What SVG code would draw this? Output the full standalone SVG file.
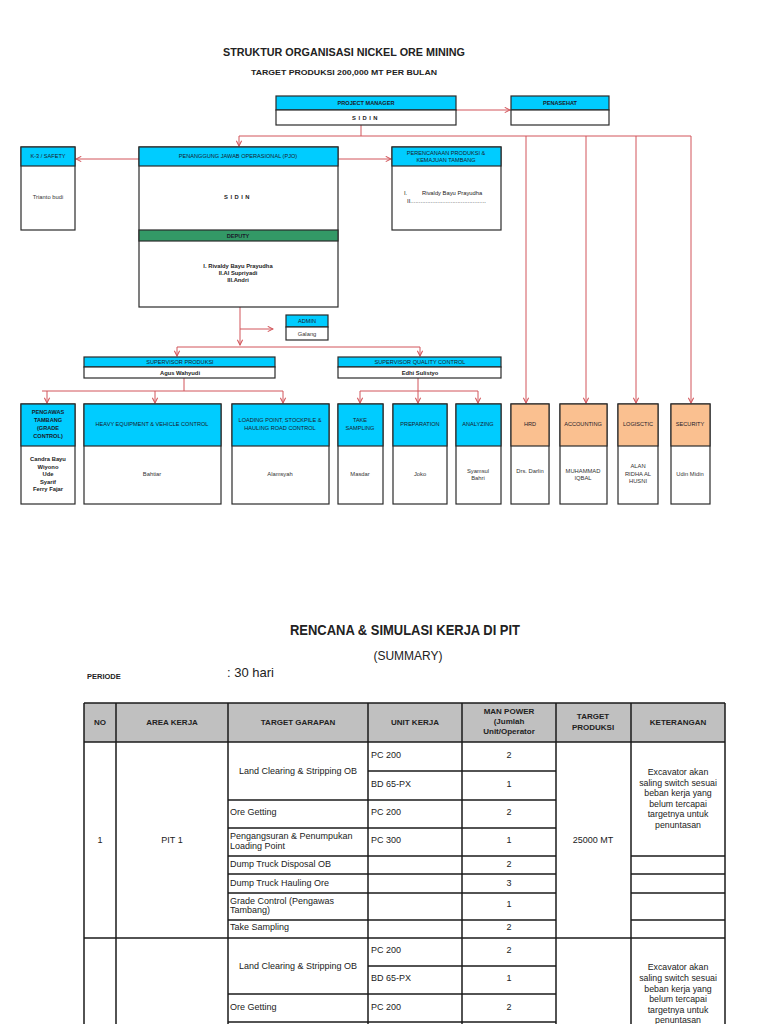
<svg xmlns="http://www.w3.org/2000/svg" width="768" height="1024" viewBox="0 0 768 1024">
<defs>
<marker id="arr" viewBox="0 0 8 8" markerWidth="7" markerHeight="7" refX="7" refY="4" orient="auto" markerUnits="userSpaceOnUse">
<path d="M1,1 L7,4 L1,7" fill="none" stroke="#d2555a" stroke-width="1.2"/>
</marker>
<style>
text{font-family:"Liberation Sans",Arial,sans-serif;fill:#222}
.box{fill:#fff;stroke:#2a2a2a;stroke-width:1.2}
.cy{fill:#00ccff;stroke:#2a2a2a;stroke-width:1.2}
.or{fill:#fac090;stroke:#2a2a2a;stroke-width:1.2}
.gr{fill:#339966;stroke:#2a2a2a;stroke-width:1.2}
.h{font-size:5.6px;text-anchor:middle;fill:#1a1a2a}
.hb{font-size:5.6px;text-anchor:middle;font-weight:bold;fill:#1a1a2a}
.n{font-size:5.8px;text-anchor:middle;fill:#333}
.nb{font-size:5.8px;text-anchor:middle;font-weight:bold;fill:#222}
.con path{fill:none;stroke:#d2555a;stroke-width:1}
.tl line{stroke:#1a1a1a;stroke-width:1.5}
.th{font-size:8px;font-weight:bold;text-anchor:middle}
.t{font-size:9px}
.tc{font-size:9px;text-anchor:middle}
.k{font-size:8.8px;text-anchor:middle}
</style>
</defs>
<rect width="768" height="1024" fill="#fff"/>

<text x="344" y="56" font-size="11" font-weight="bold" text-anchor="middle" textLength="242" lengthAdjust="spacingAndGlyphs">STRUKTUR ORGANISASI NICKEL ORE MINING</text>
<text x="344" y="75" font-size="8" font-weight="bold" text-anchor="middle" textLength="186" lengthAdjust="spacingAndGlyphs">TARGET PRODUKSI 200,000 MT PER BULAN</text>

<g class="con">
<path d="M456,110 H510" marker-end="url(#arr)"/>
<path d="M361,125 V136 M239,136 H691"/>
<path d="M239,136 V146" marker-end="url(#arr)"/>
<path d="M526,136 V403" marker-end="url(#arr)"/>
<path d="M586,136 V403" marker-end="url(#arr)"/>
<path d="M636,136 V403" marker-end="url(#arr)"/>
<path d="M691,136 V403" marker-end="url(#arr)"/>
<path d="M139,159 H76" marker-end="url(#arr)"/>
<path d="M338,159 H391" marker-end="url(#arr)"/>
<path d="M240,307 V345" marker-end="url(#arr)"/>
<path d="M240,329 H273" marker-end="url(#arr)"/>
<path d="M177,347 H420"/>
<path d="M177,347 V356" marker-end="url(#arr)"/>
<path d="M420,347 V356" marker-end="url(#arr)"/>
<path d="M184,378 V391 M42,391 H283"/>
<path d="M47,391 V403" marker-end="url(#arr)"/>
<path d="M155,391 V403" marker-end="url(#arr)"/>
<path d="M283,391 V403" marker-end="url(#arr)"/>
<path d="M418,378 V391 M360,391 H478"/>
<path d="M360,391 V403" marker-end="url(#arr)"/>
<path d="M418,391 V403" marker-end="url(#arr)"/>
<path d="M478,391 V403" marker-end="url(#arr)"/>
</g>

<g id="pm">
<rect class="cy" x="276" y="96" width="180" height="14"/>
<rect class="box" x="276" y="110" width="180" height="15"/>
<text class="hb" x="366" y="105">PROJECT MANAGER</text>
<text class="nb" x="366" y="120" letter-spacing="2.5">SIDIN</text>
</g>
<g id="penasehat">
<rect class="cy" x="511" y="96" width="98" height="14"/>
<rect class="box" x="511" y="110" width="98" height="15"/>
<text class="hb" x="560" y="105">PENASEHAT</text>
</g>
<g id="k3">
<rect class="box" x="21" y="147" width="54" height="83"/>
<rect class="cy" x="21" y="147" width="54" height="19"/>
<text class="h" x="48" y="157.5">K-3 / SAFETY</text>
<text class="n" x="48" y="199">Trianto budi</text>
</g>
<g id="pjo">
<rect class="box" x="139" y="147" width="199" height="160"/>
<rect class="cy" x="139" y="147" width="199" height="19"/>
<text class="h" x="238" y="157.5">PENANGGUNG JAWAB OPERASIONAL (PJO)</text>
<text class="nb" x="238" y="199" letter-spacing="2.5">SIDIN</text>
<rect class="gr" x="139" y="230" width="199" height="11"/>
<text class="hb" x="238" y="237.5">DEPUTY</text>
<text class="nb" x="238" y="268">I. Rivaldy Bayu Prayudha</text>
<text class="nb" x="238" y="275">II.Al Supriyadi</text>
<text class="nb" x="238" y="282">III.Andri</text>
</g>
<g id="perencanaan">
<rect class="box" x="392" y="147" width="109" height="83"/>
<rect class="cy" x="392" y="147" width="109" height="19"/>
<text class="h" x="446" y="154.5">PERENCANAAN PRODUKSI &amp;</text>
<text class="h" x="446" y="161.5">KEMAJUAN TAMBANG</text>
<text x="404" y="195" font-size="5.8" fill="#333">I.</text>
<text x="422" y="195" font-size="5.8" fill="#333">Rivaldy Bayu Prayudha</text>
<text x="407" y="203" font-size="5.8" fill="#333" textLength="79" lengthAdjust="spacingAndGlyphs">II.............................................</text>
</g>
<g id="admin">
<rect class="cy" x="286" y="315" width="42" height="12"/>
<rect class="box" x="286" y="327" width="42" height="13"/>
<text class="h" x="307" y="323">ADMIN</text>
<text class="n" x="307" y="336">Galang</text>
</g>
<g id="sup-produksi">
<rect class="cy" x="84" y="357" width="191" height="10"/>
<rect class="box" x="84" y="367" width="191" height="11"/>
<text class="h" x="180" y="364">SUPERVISOR PRODUKSI</text>
<text class="nb" x="180" y="375">Agus Wahyudi</text>
</g>
<g id="sup-qc">
<rect class="cy" x="338" y="357" width="163" height="10"/>
<rect class="box" x="338" y="367" width="163" height="11"/>
<text class="h" x="420" y="364">SUPERVISOR QUALITY CONTROL</text>
<text class="nb" x="420" y="375">Edhi Sulistyo</text>
</g>

<g id="pengawas">
<rect class="box" x="21" y="404" width="54" height="100"/>
<rect class="cy" x="21" y="404" width="54" height="42"/>
<text class="hb" x="48" y="414">PENGAWAS</text>
<text class="hb" x="48" y="422">TAMBANG</text>
<text class="hb" x="48" y="430">(GRADE</text>
<text class="hb" x="48" y="438">CONTROL)</text>
<text class="nb" x="48" y="461">Candra Bayu</text>
<text class="nb" x="48" y="468.5">Wiyono</text>
<text class="nb" x="48" y="476">Ude</text>
<text class="nb" x="48" y="483.5">Syarif</text>
<text class="nb" x="48" y="491">Ferry Fajar</text>
</g>
<g id="heavy">
<rect class="box" x="84" y="404" width="137" height="100"/>
<rect class="cy" x="84" y="404" width="137" height="42"/>
<text class="h" x="152" y="426">HEAVY EQUIPMENT &amp; VEHICLE CONTROL</text>
<text class="n" x="152" y="476">Bahtiar</text>
</g>
<g id="loading">
<rect class="box" x="232" y="404" width="97" height="100"/>
<rect class="cy" x="232" y="404" width="97" height="42"/>
<text class="h" x="280" y="422">LOADING POINT, STOCKPILE &amp;</text>
<text class="h" x="280" y="430">HAULING ROAD CONTROL</text>
<text class="n" x="280" y="476">Alamsyah</text>
</g>
<g id="take">
<rect class="box" x="338" y="404" width="45" height="100"/>
<rect class="cy" x="338" y="404" width="45" height="42"/>
<text class="h" x="360" y="422">TAKE</text>
<text class="h" x="360" y="430">SAMPLING</text>
<text class="n" x="360" y="476">Masdar</text>
</g>
<g id="prep">
<rect class="box" x="393" y="404" width="54" height="100"/>
<rect class="cy" x="393" y="404" width="54" height="42"/>
<text class="h" x="420" y="426">PREPARATION</text>
<text class="n" x="420" y="476">Joko</text>
</g>
<g id="analyzing">
<rect class="box" x="456" y="404" width="45" height="100"/>
<rect class="cy" x="456" y="404" width="45" height="42"/>
<text class="h" x="478" y="426">ANALYZING</text>
<text class="n" x="478" y="473">Syamsul</text>
<text class="n" x="478" y="480">Bahri</text>
</g>
<g id="hrd">
<rect class="box" x="511" y="404" width="38" height="100"/>
<rect class="or" x="511" y="404" width="38" height="42"/>
<text class="h" x="530" y="426">HRD</text>
<text class="n" x="530" y="473">Drs. Darlin</text>
</g>
<g id="accounting">
<rect class="box" x="560" y="404" width="47" height="100"/>
<rect class="or" x="560" y="404" width="47" height="42"/>
<text class="h" x="583" y="426">ACCOUNTING</text>
<text class="n" x="583" y="473">MUHAMMAD</text>
<text class="n" x="583" y="480">IQBAL</text>
</g>
<g id="logistic">
<rect class="box" x="618" y="404" width="40" height="100"/>
<rect class="or" x="618" y="404" width="40" height="42"/>
<text class="h" x="638" y="426">LOGISCTIC</text>
<text class="n" x="638" y="468">ALAN</text>
<text class="n" x="638" y="476">RIDHA AL</text>
<text class="n" x="638" y="483">HUSNI</text>
</g>
<g id="security">
<rect class="box" x="671" y="404" width="39" height="100"/>
<rect class="or" x="671" y="404" width="39" height="42"/>
<text class="h" x="690" y="426">SECURITY</text>
<text class="n" x="690" y="476">Udin Midin</text>
</g>

<g id="table-title">
<text x="405" y="635" font-size="15" font-weight="bold" text-anchor="middle" textLength="230" lengthAdjust="spacingAndGlyphs" fill="#1a1a1a">RENCANA &amp; SIMULASI KERJA DI PIT</text>
<text x="408" y="660" font-size="12" text-anchor="middle" fill="#1a1a1a">(SUMMARY)</text>
<text x="87" y="679" font-size="7.5" font-weight="bold" fill="#1a1a1a">PERIODE</text>
<text x="227" y="677" font-size="13" fill="#1a1a1a">: 30 hari</text>
</g>

<g id="table">
<rect x="84" y="703" width="641" height="39" fill="#c0c0c0"/>
<g class="tl">
<line x1="84" y1="703" x2="725" y2="703"/>
<line x1="84" y1="742" x2="725" y2="742"/>
<line x1="84" y1="938" x2="725" y2="938"/>
<line x1="84" y1="703" x2="84" y2="1024"/>
<line x1="116" y1="703" x2="116" y2="1024"/>
<line x1="228" y1="703" x2="228" y2="1024"/>
<line x1="368" y1="703" x2="368" y2="1024"/>
<line x1="462" y1="703" x2="462" y2="1024"/>
<line x1="556" y1="703" x2="556" y2="1024"/>
<line x1="631" y1="703" x2="631" y2="1024"/>
<line x1="725" y1="703" x2="725" y2="1024"/>
<line x1="368" y1="771" x2="556" y2="771"/>
<line x1="228" y1="800" x2="556" y2="800"/>
<line x1="228" y1="828" x2="556" y2="828"/>
<line x1="228" y1="856" x2="556" y2="856"/>
<line x1="228" y1="874" x2="556" y2="874"/>
<line x1="228" y1="893" x2="556" y2="893"/>
<line x1="228" y1="920" x2="556" y2="920"/>
<line x1="631" y1="856" x2="725" y2="856"/>
<line x1="631" y1="874" x2="725" y2="874"/>
<line x1="631" y1="893" x2="725" y2="893"/>
<line x1="631" y1="920" x2="725" y2="920"/>
<line x1="368" y1="966" x2="556" y2="966"/>
<line x1="228" y1="994" x2="556" y2="994"/>
<line x1="228" y1="1022" x2="556" y2="1022"/>
</g>
<text class="th" x="100" y="725">NO</text>
<text class="th" x="172" y="725">AREA KERJA</text>
<text class="th" x="298" y="725">TARGET GARAPAN</text>
<text class="th" x="415" y="725">UNIT KERJA</text>
<text class="th" x="509" y="714">MAN POWER</text>
<text class="th" x="509" y="724">(Jumlah</text>
<text class="th" x="509" y="734">Unit/Operator</text>
<text class="th" x="593" y="719">TARGET</text>
<text class="th" x="593" y="730">PRODUKSI</text>
<text class="th" x="678" y="725">KETERANGAN</text>

<text class="tc" x="100" y="843">1</text>
<text class="tc" x="172" y="843">PIT 1</text>
<text class="tc" x="298" y="774">Land Clearing &amp; Stripping OB</text>
<text class="t" x="230" y="815">Ore Getting</text>
<text class="t" x="230" y="839">Pengangsuran &amp; Penumpukan</text>
<text class="t" x="230" y="849">Loading Point</text>
<text class="t" x="230" y="867">Dump Truck Disposal OB</text>
<text class="t" x="230" y="886">Dump Truck Hauling Ore</text>
<text class="t" x="230" y="903.5">Grade Control (Pengawas</text>
<text class="t" x="230" y="913">Tambang)</text>
<text class="t" x="230" y="930">Take Sampling</text>
<text class="t" x="371" y="758">PC 200</text>
<text class="t" x="371" y="787">BD 65-PX</text>
<text class="t" x="371" y="815">PC 200</text>
<text class="t" x="371" y="843">PC 300</text>
<text class="tc" x="509" y="758">2</text>
<text class="tc" x="509" y="787">1</text>
<text class="tc" x="509" y="815">2</text>
<text class="tc" x="509" y="843">1</text>
<text class="tc" x="509" y="867">2</text>
<text class="tc" x="509" y="886">3</text>
<text class="tc" x="509" y="907">1</text>
<text class="tc" x="509" y="930">2</text>
<text class="tc" x="593" y="843">25000 MT</text>
<text class="k" x="678" y="775">Excavator akan</text>
<text class="k" x="678" y="785.5">saling switch sesuai</text>
<text class="k" x="678" y="796">beban kerja yang</text>
<text class="k" x="678" y="806.5">belum tercapai</text>
<text class="k" x="678" y="817">targetnya untuk</text>
<text class="k" x="678" y="827.5">penuntasan</text>

<text class="tc" x="298" y="969">Land Clearing &amp; Stripping OB</text>
<text class="t" x="371" y="953">PC 200</text>
<text class="t" x="371" y="981">BD 65-PX</text>
<text class="t" x="230" y="1010">Ore Getting</text>
<text class="t" x="371" y="1010">PC 200</text>
<text class="tc" x="509" y="953">2</text>
<text class="tc" x="509" y="981">1</text>
<text class="tc" x="509" y="1010">2</text>
<text class="k" x="678" y="970">Excavator akan</text>
<text class="k" x="678" y="981">saling switch sesuai</text>
<text class="k" x="678" y="991.5">beban kerja yang</text>
<text class="k" x="678" y="1002">belum tercapai</text>
<text class="k" x="678" y="1012.5">targetnya untuk</text>
<text class="k" x="678" y="1023">penuntasan</text>
</g>
</svg>
